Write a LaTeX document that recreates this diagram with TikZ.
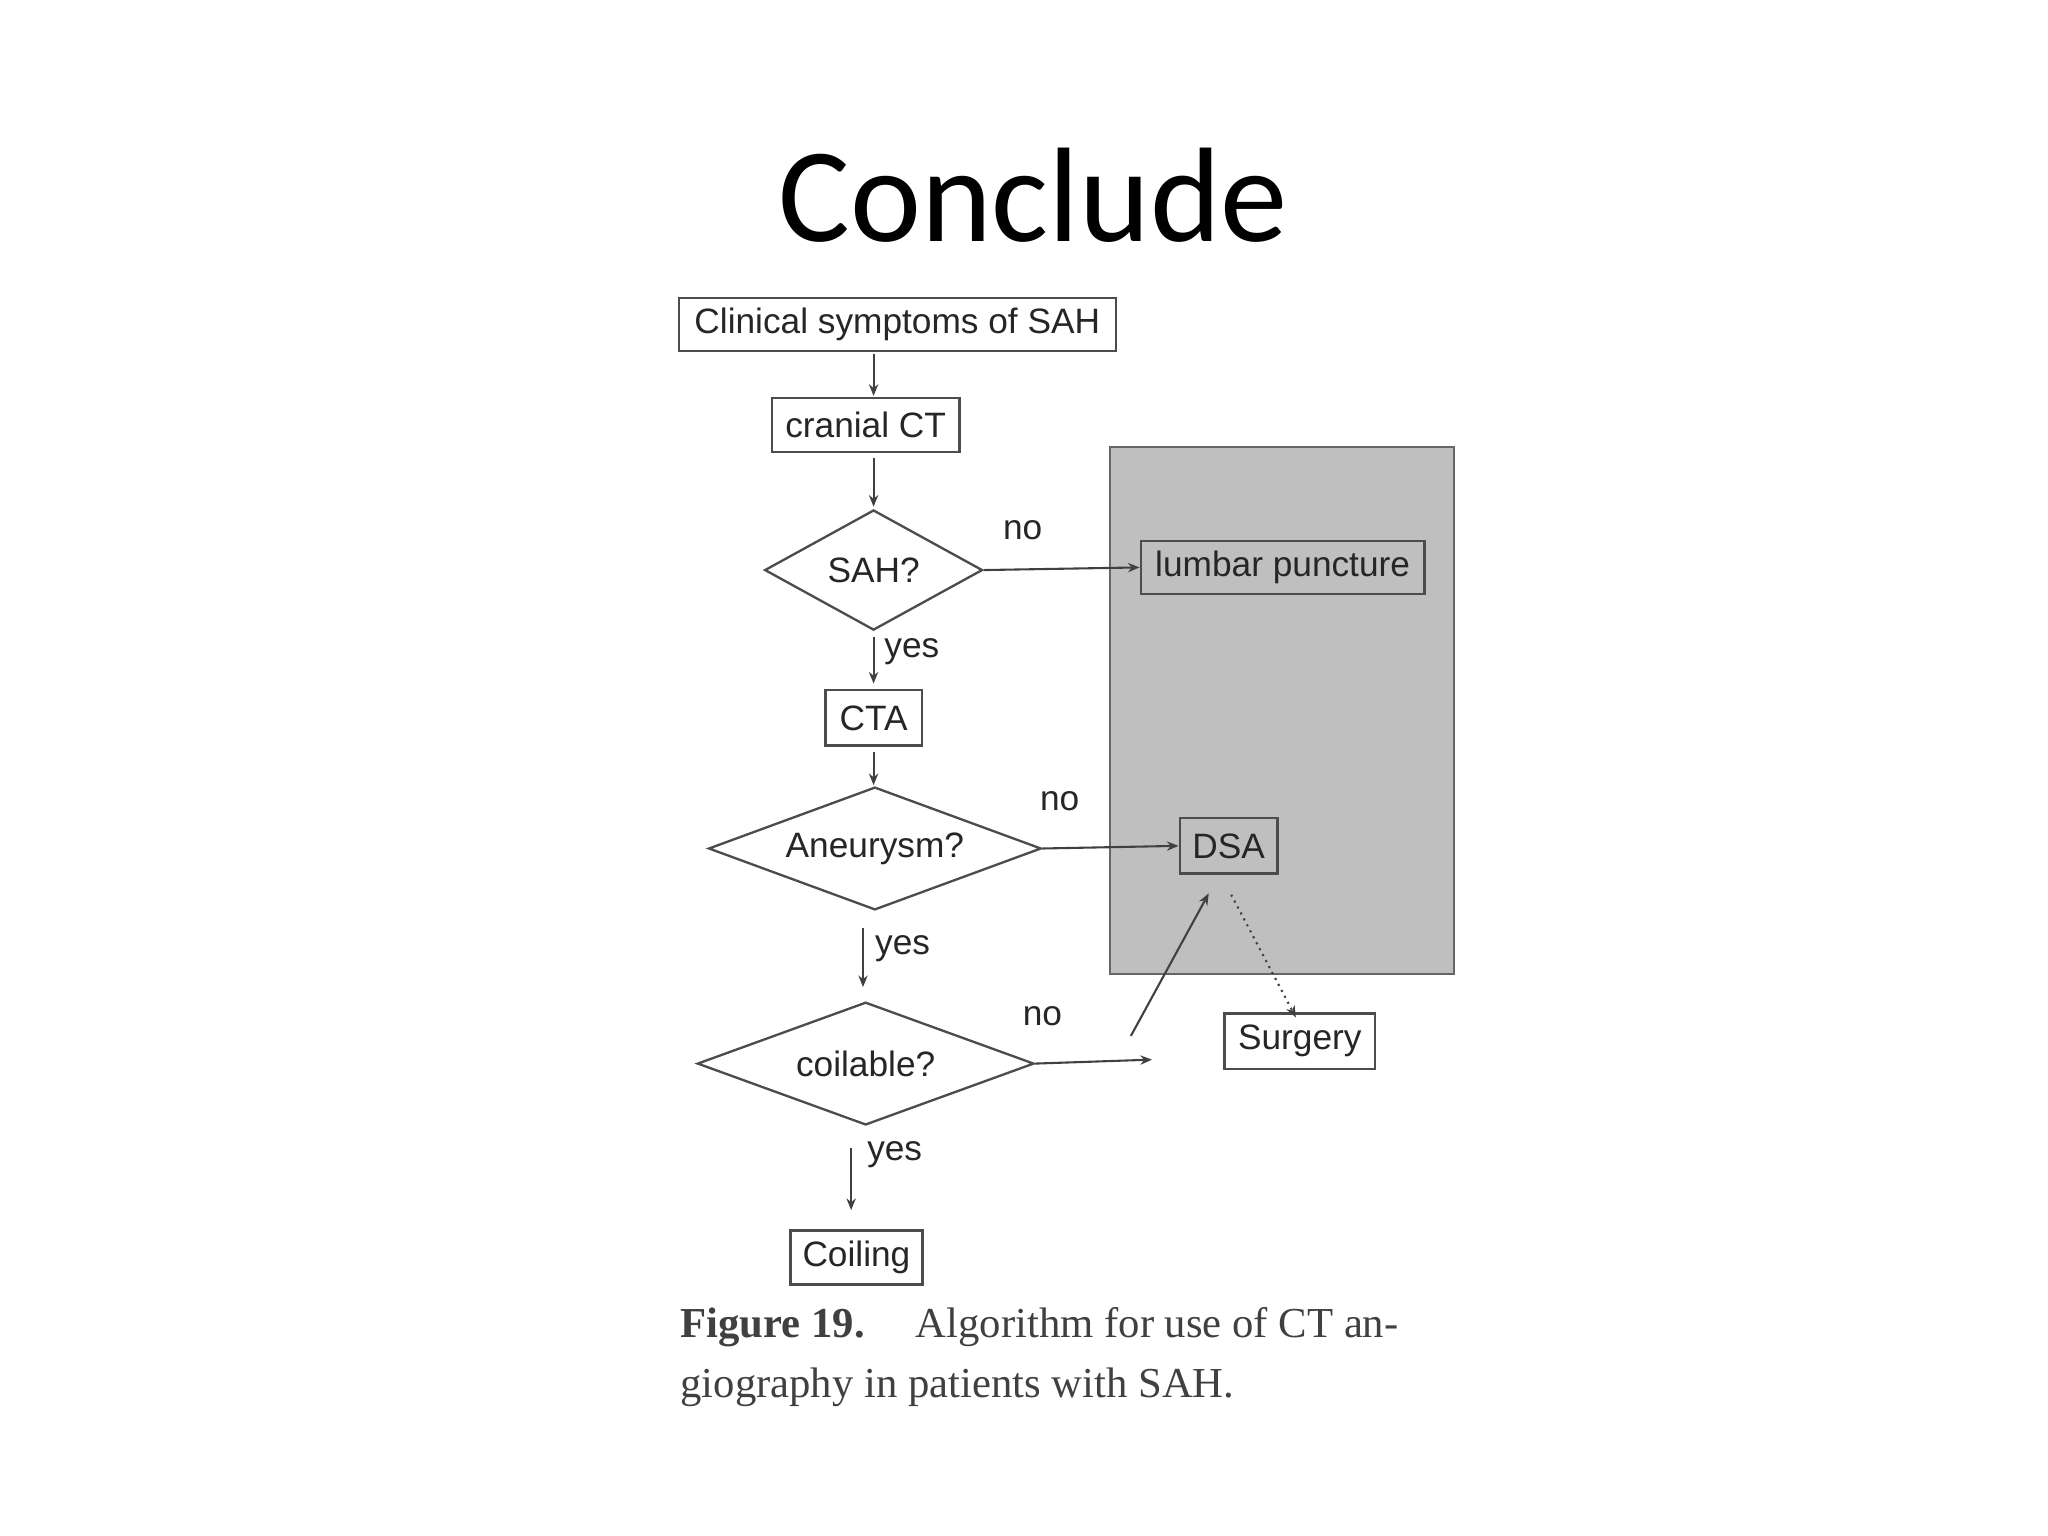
\documentclass[tikz,border=0pt]{standalone}
\usepackage{fontspec}
\setmainfont{Liberation Sans}
\newfontfamily\titlefont{Carlito}
\newfontfamily\capfont{Liberation Serif}
\usetikzlibrary{shapes.geometric,arrows.meta}
\begin{document}
\begin{tikzpicture}[x=0.01cm,y=-0.01cm,
  box/.style={draw=black!70,line width=0.5pt,inner sep=0pt,font=\fontsize{7.6}{9}\selectfont,text=black!85},
  dia/.style={draw=black!70,line width=0.5pt,diamond,inner sep=0pt,font=\fontsize{7.6}{9}\selectfont,text=black!85},
  lbl/.style={font=\fontsize{7.6}{9}\selectfont,text=black!85},
  arr/.style={draw=black!75,line width=0.45pt,-{Stealth[length=2.5pt,width=2pt]}}]
\useasboundingbox (0,0) rectangle (1552,1164);
\fill[white] (0,0) rectangle (1552,1164);
\node[font=\titlefont\fontsize{29}{34}\selectfont] (title) at (783,148) {Conclude};
\node[draw=black!60,fill=black!25,line width=0.5pt,minimum width=2.61cm,minimum height=3.99cm] (gray) at (971.5,538.5) {};
\node[box,minimum width=3.31cm,minimum height=0.40cm] (clin) at (680,246) {Clinical symptoms of SAH};
\node[box,minimum width=1.42cm,minimum height=0.41cm] (ct) at (656,322) {cranial CT};
\node[dia,minimum width=1.65cm,minimum height=0.91cm,aspect=1.8] (sah) at (662,432) {SAH?};
\node[box,minimum width=2.15cm,minimum height=0.40cm] (lp) at (972,430) {lumbar puncture};
\node[box,minimum width=0.73cm,minimum height=0.42cm] (cta) at (662,544) {CTA};
\node[dia,minimum width=2.52cm,minimum height=0.93cm,aspect=2.7] (an) at (663,643) {Aneurysm?};
\node[box,minimum width=0.74cm,minimum height=0.42cm] (dsa) at (931,641) {DSA};
\node[dia,minimum width=2.55cm,minimum height=0.93cm,aspect=2.7] (coil) at (656,806) {coilable?};
\node[box,minimum width=1.14cm,minimum height=0.42cm] (surg) at (985,789) {Surgery};
\node[box,minimum width=1.00cm,minimum height=0.41cm] (coiling) at (649,953) {Coiling};
\node[lbl] (no1) at (775,402) {no};
\node[lbl] (yes1) at (691,494) {yes};
\node[lbl] (no2) at (803,607) {no};
\node[lbl] (yes2) at (684,719) {yes};
\node[lbl] (no3) at (790,770) {no};
\node[lbl] (yes3) at (678,875) {yes};
\coordinate (c1) at (662,268); \coordinate (c2) at (662,300);
\coordinate (c3) at (662,347); \coordinate (c4) at (662,384);
\coordinate (c5) at (662,483); \coordinate (c6) at (662,518);
\coordinate (c7) at (662,570); \coordinate (c8) at (662,595);
\coordinate (c9) at (654,703); \coordinate (c10) at (654,748);
\coordinate (c11) at (873,803);
\coordinate (c12) at (857,785); \coordinate (c13) at (916,677);
\coordinate (c14) at (933,678); \coordinate (c15) at (982,771);
\coordinate (c16) at (645,870); \coordinate (c17) at (645,917);
\draw[arr] (c1) -- (c2);
\draw[arr] (c3) -- (c4);
\draw[arr] (sah.east) -- (lp.west);
\draw[arr] (c5) -- (c6);
\draw[arr] (c7) -- (c8);
\draw[arr] (an.east) -- (dsa.west);
\draw[arr] (c9) -- (c10);
\draw[arr] (coil.east) -- (c11);
\draw[arr] (c12) -- (c13);
\draw[arr,densely dotted] (c14) -- (c15);
\draw[arr] (c16) -- (c17);
\node[anchor=north west,align=left,inner sep=0pt,text=black!75,font=\capfont\fontsize{9.2}{13}\selectfont] (cap) at (515,990)
 {\textbf{Figure 19.}\hspace{1.2em}Algorithm for use of CT an-\\giography in patients with SAH.};
\end{tikzpicture}
\end{document}
